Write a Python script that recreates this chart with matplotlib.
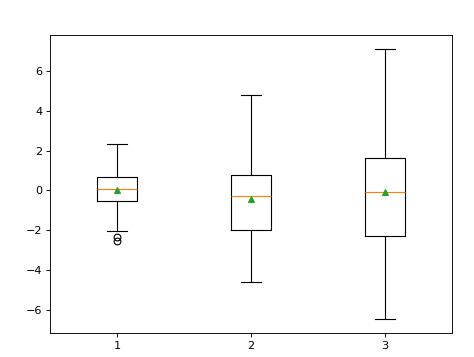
import matplotlib
matplotlib.use("Agg")
import matplotlib.pyplot as plt

# box stats
labels = ["1", "2", "3"]
medians = [0.06, -0.29, -0.09]
means = [0.03, -0.44, -0.07]
q1 = [-0.52, -1.98, -2.30]
q3 = [0.66, 0.79, 1.65]
whislo = [-2.02, -4.56, -6.45]
whishi = [2.33, 4.76, 7.10]
fliers = [[-2.33, -2.55], [], []]

stats = []
for i in range(len(labels)):
    stats.append(dict(label=labels[i], med=medians[i], mean=means[i],
                      q1=q1[i], q3=q3[i], whislo=whislo[i], whishi=whishi[i],
                      fliers=fliers[i]))

fig = plt.figure(figsize=(474/81, 357/81), dpi=81)
ax = fig.add_axes([50/474, 24/357, 402/474, 298/357])
ax.bxp(stats, showmeans=True, widths=0.3)

fig.savefig("out.png", dpi=81)
